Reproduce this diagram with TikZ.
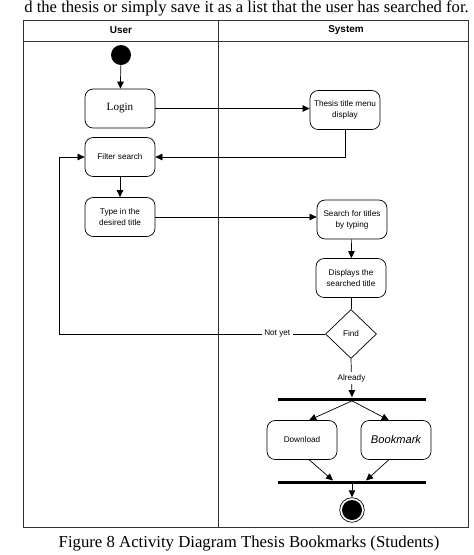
\documentclass[tikz,border=0pt]{standalone}
\usepackage{fontspec}
\setmainfont{Liberation Sans}
\newfontfamily\timesfont{Liberation Serif}
\usetikzlibrary{arrows,arrows.meta,shapes}

\begin{document}
\begin{tikzpicture}[x=0.03cm, y=-0.03cm, line width=0.6pt, >={Triangle[length=6pt,width=5.5pt]}]
\tikzstyle{act} = [draw, rounded corners=7pt, minimum width=2.1cm, minimum height=1.17cm, inner sep=1pt, align=center, font=\fontsize{7}{9.5}\selectfont]
\tikzstyle{bar} = [fill, minimum width=4.44cm, minimum height=0.09cm, inner sep=0pt]
\tikzstyle{lbl} = [fill=white, inner sep=2pt, font=\fontsize{7}{9}\selectfont]
\useasboundingbox (0,0) rectangle (474,555);
\node [anchor=east, font=\timesfont\fontsize{14.2}{16}\selectfont] (intro) at (473,8) {d the thesis or simply save it as a list that the user has searched for.};
% swimlanes
\draw [black!80] (23,20) rectangle (468,527);
\draw [black!80] (23,41) -- (468,41);
\draw [black!80] (218,20) -- (218,527);
\node [font=\fontsize{8.5}{10}\selectfont\bfseries] (user) at (121,30.5) {User};
\node [font=\fontsize{8.5}{10}\selectfont\bfseries] (system) at (346,30.5) {System};
% activities
\node [circle, fill, minimum size=0.6cm, inner sep=0pt] (start) at (121,55) {};
\node [act, font=\timesfont\fontsize{9.5}{11}\selectfont] (login) at (120,108.5) {Login};
\node [act] (filter) at (120,157) {Filter search};
\node [act] (type) at (120,217) {Type in the\\desired title};
\node [act] (menu) at (345,110) {Thesis title menu\\display};
\node [act] (search) at (352,219.5) {Search for titles\\by typing};
\node [act] (shown) at (351,278) {Displays the\\searched title};
\node [diamond, draw, aspect=1, minimum width=1.53cm, minimum height=1.47cm, inner sep=0pt, font=\fontsize{7}{9}\selectfont] (find) at (351,334) {Find};
\node [bar] (fork) at (352,399) {};
\node [act] (download) at (302,440) {Download};
\node [act, font=\fontsize{9.5}{11}\selectfont\itshape] (bookmark) at (396,440) {Bookmark};
\node [bar] (join) at (352,482) {};
\node [circle, draw, minimum size=0.74cm, inner sep=0pt] (finish) at (352,510) {};
\node [circle, fill, minimum size=0.6cm, inner sep=0pt] (finishdot) at (352,510) {};
\coordinate (loop) at (59,334);
\coordinate (j1) at (333,480.5);
\coordinate (j2) at (366,480.5);
% flows
\draw [->] (start) -- (login);
\draw [->] (login) -- (login -| menu.west);
\draw [->] (menu.south) |- (filter.east);
\draw [->] (filter) -- (type);
\draw [->] (type.east) -- (type -| search.west);
\draw [->] (search) -- (shown);
\draw (shown) -- (find);
\draw [->] (find.west) -- node [lbl, pos=0.18] {Not yet} (loop) |- (filter.west);
\draw [->] (find.south) -- node [lbl] {Already} (fork.north);
\draw [->] (fork.south) -- (download.70);
\draw [->] (fork.south) -- (bookmark.110);
\draw [->] (download.-70) -- (j1);
\draw [->] (bookmark.-110) -- (j2);
\draw [->] (join.south) -- (finish);
\node [font=\timesfont\fontsize{14.3}{16}\selectfont] (caption) at (249,543) {Figure 8 Activity Diagram Thesis Bookmarks (Students)};
\end{tikzpicture}
\end{document}
